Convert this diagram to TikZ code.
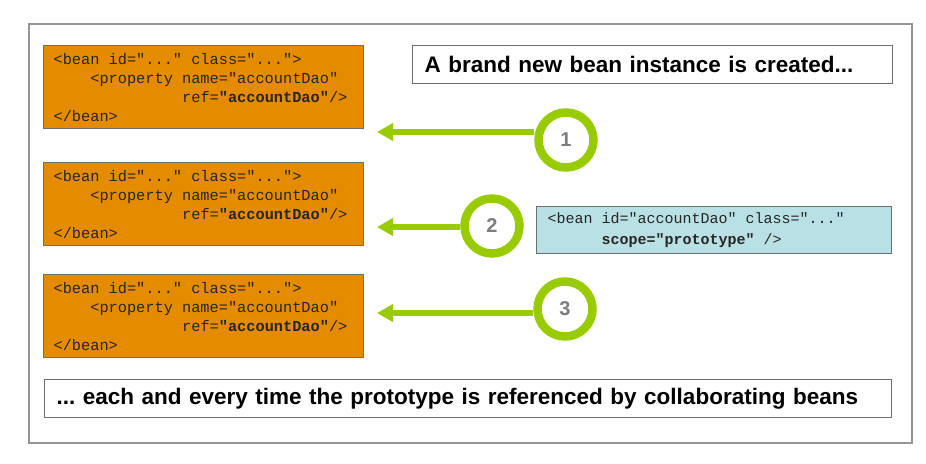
\documentclass[tikz,border=0pt]{standalone}
\usepackage{fontspec}
\setmainfont{Liberation Sans}
\setsansfont{Liberation Sans}
\setmonofont{Liberation Mono}
\usetikzlibrary{arrows.meta}

\definecolor{beanorange}{RGB}{229,139,0}
\definecolor{protocyan}{RGB}{185,224,228}
\definecolor{markgreen}{RGB}{153,204,0}
\definecolor{framegray}{RGB}{150,150,150}
\definecolor{boxgray}{RGB}{110,110,110}
\definecolor{digitgray}{RGB}{125,125,125}

\frenchspacing

% one monospaced blank
\newcommand{\ws}{\hphantom{x}}

\newcommand{\beancode}{<bean\ws id="..."\ws class="...">\\
\hphantom{xxxx}<property\ws name="accountDao"\\
\hphantom{xxxxxxxxxxxxxx}ref=\textbf{"accountDao"}/>\\
</bean>}

\tikzset{
  code/.style={font=\ttfamily\fontsize{15.3}{19}\selectfont,
    text=black!85, align=left, anchor=north west, inner ysep=0pt},
  beanbox/.style={code, draw=boxgray, line width=1.2pt, fill=beanorange,
    minimum width=320pt, minimum height=83pt, text width=300pt, inner xsep=10pt},
  protobox/.style={code, draw=boxgray, line width=1.2pt, fill=protocyan,
    font=\ttfamily\fontsize{15}{20.5}\selectfont,
    minimum width=355pt, minimum height=47pt, text width=333pt, inner xsep=11pt},
  caption/.style={draw=boxgray, line width=1.2pt, fill=white, anchor=north west,
    font=\sffamily\bfseries\fontsize{22.5}{26}\selectfont, align=left,
    minimum height=38pt, inner xsep=12pt, inner ysep=0pt},
  num/.style={circle, draw=markgreen, line width=8.5pt, fill=white,
    minimum size=55pt, inner sep=0pt, text=digitgray,
    font=\sffamily\bfseries\fontsize{20}{20}\selectfont},
  pointer/.style={draw=markgreen, line width=6pt,
    -{Triangle[length=16pt,width=17pt]}}
}

\begin{document}
\begin{tikzpicture}[x=1pt,y=-1pt]

\useasboundingbox (0,0) rectangle (926,463);

% Frame
\draw[framegray, line width=2pt] (29,24) rectangle (912,443);

% Bean instances
\node[beanbox] (B1) at (43,45) {\beancode};
\node[beanbox] (B2) at (43,162) {\beancode};
\node[beanbox] (B3) at (43,274) {\beancode};

% Prototype definition
\node[protobox] (P) at (536,206) {<bean\ws id="accountDao"\ws class="..."\\
\hphantom{xxxxxx}\textbf{scope="prototype"}\ws/>};

% Captions
\node[caption, minimum width=480pt, text width=456pt] (top) at (412,45)
  {A brand new bean instance is created...};
\node[caption, minimum width=847pt, text width=823pt] (bottom) at (44,379)
  {... each and every time the prototype is referenced by collaborating beans};

% Arrow ends
\coordinate (T1) at (377,132);
\coordinate (T2) at (377,227);
\coordinate (T3) at (377,313);

% Steps
\node[num] (N1) at (566,140) {1};
\node[num] (N2) at (492,226) {2};
\node[num] (N3) at (565,309) {3};

\draw[pointer] (N1.west |- T1) -- (T1);
\draw[pointer] (N2.west |- T2) -- (T2);
\draw[pointer] (N3.west |- T3) -- (T3);

\end{tikzpicture}
\end{document}
